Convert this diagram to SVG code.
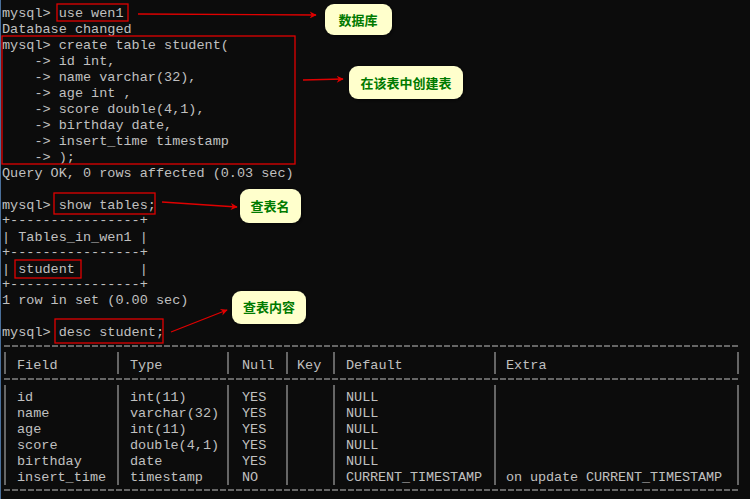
<svg xmlns="http://www.w3.org/2000/svg" width="750" height="499" viewBox="0 0 750 499">
<defs>
<marker id="ah" viewBox="0 0 10 10" refX="9" refY="5" markerWidth="9" markerHeight="7" orient="auto" markerUnits="userSpaceOnUse"><path d="M0,0 L10,5 L0,10 L3,5 Z" fill="#e00000"/></marker>
<filter id="sh" x="-20%" y="-30%" width="140%" height="160%"><feGaussianBlur in="SourceAlpha" stdDeviation="2"/><feOffset dx="1" dy="1"/><feComponentTransfer><feFuncA type="linear" slope="0.6"/></feComponentTransfer><feMerge><feMergeNode/><feMergeNode in="SourceGraphic"/></feMerge></filter>
</defs>
<style>
.t{font-family:"Liberation Mono",monospace;font-size:13.5px;fill:#c0c0c0;white-space:pre}
.d{font-family:"Liberation Mono",monospace;font-size:13.5px;fill:#c0c0c0}
.box{fill:none;stroke:#e00000;stroke-width:1.3}
.call{fill:#ffffcc;filter:url(#sh)}
.ct{font-family:"Noto Sans CJK SC",sans-serif;font-size:13px;font-weight:bold;fill:#007a00;text-anchor:middle}
.arr{stroke:#e00000;stroke-width:1.3;fill:none;marker-end:url(#ah)}
.sep{stroke:#c0c0c0;stroke-width:1;stroke-dasharray:6 2}
.v{stroke:#c0c0c0;stroke-width:1}
</style>
<rect width="750" height="499" fill="#0c0c0c"/>
<line x1="0.5" y1="0" x2="0.5" y2="499" stroke="#4a6f9a"/>
<g id="terminal" xml:space="preserve">
<text class="t" x="2" y="17">mysql&gt; use wen1</text>
<text class="t" x="2" y="33">Database changed</text>
<text class="t" x="2" y="49">mysql&gt; create table student(</text>
<text class="t" x="2" y="65">    -&gt; id int,</text>
<text class="t" x="2" y="81">    -&gt; name varchar(32),</text>
<text class="t" x="2" y="97">    -&gt; age int ,</text>
<text class="t" x="2" y="113">    -&gt; score double(4,1),</text>
<text class="t" x="2" y="129">    -&gt; birthday date,</text>
<text class="t" x="2" y="145">    -&gt; insert_time timestamp</text>
<text class="t" x="2" y="161">    -&gt; );</text>
<text class="t" x="2" y="177">Query OK, 0 rows affected (0.03 sec)</text>
<text class="t" x="2" y="209">mysql&gt; show tables;</text>
<text class="t" x="2" y="224">+----------------+</text>
<text class="t" x="2" y="241">| Tables_in_wen1 |</text>
<text class="t" x="2" y="256">+----------------+</text>
<text class="t" x="2" y="273">| student        |</text>
<text class="t" x="2" y="288">+----------------+</text>
<text class="t" x="2" y="304">1 row in set (0.00 sec)</text>
<text class="t" x="2" y="336">mysql&gt; desc student;</text>
</g>
<g id="desc-table">
<line class="sep" x1="4" y1="346" x2="738" y2="346"/>
<line class="sep" x1="4" y1="379" x2="738" y2="379"/>
<line class="sep" x1="4" y1="490" x2="738" y2="490"/>
<g class="v">
<line x1="5" y1="352" x2="5" y2="374"/><line x1="118" y1="352" x2="118" y2="374"/><line x1="228" y1="352" x2="228" y2="374"/><line x1="287" y1="352" x2="287" y2="374"/><line x1="334" y1="352" x2="334" y2="374"/><line x1="495" y1="352" x2="495" y2="374"/><line x1="738" y1="352" x2="738" y2="374"/>
<line x1="5" y1="385" x2="5" y2="485"/><line x1="118" y1="385" x2="118" y2="485"/><line x1="228" y1="385" x2="228" y2="485"/><line x1="287" y1="385" x2="287" y2="485"/><line x1="334" y1="385" x2="334" y2="485"/><line x1="495" y1="385" x2="495" y2="485"/><line x1="738" y1="385" x2="738" y2="485"/>
</g>
<text class="d" x="17" y="369">Field</text><text class="d" x="130" y="369">Type</text><text class="d" x="242" y="369">Null</text><text class="d" x="297" y="369">Key</text><text class="d" x="346" y="369">Default</text><text class="d" x="506" y="369">Extra</text>
<text class="d" x="17" y="401">id</text><text class="d" x="130" y="401">int(11)</text><text class="d" x="242" y="401">YES</text><text class="d" x="346" y="401">NULL</text>
<text class="d" x="17" y="417">name</text><text class="d" x="130" y="417">varchar(32)</text><text class="d" x="242" y="417">YES</text><text class="d" x="346" y="417">NULL</text>
<text class="d" x="17" y="433">age</text><text class="d" x="130" y="433">int(11)</text><text class="d" x="242" y="433">YES</text><text class="d" x="346" y="433">NULL</text>
<text class="d" x="17" y="449">score</text><text class="d" x="130" y="449">double(4,1)</text><text class="d" x="242" y="449">YES</text><text class="d" x="346" y="449">NULL</text>
<text class="d" x="17" y="465">birthday</text><text class="d" x="130" y="465">date</text><text class="d" x="242" y="465">YES</text><text class="d" x="346" y="465">NULL</text>
<text class="d" x="17" y="481">insert_time</text><text class="d" x="130" y="481">timestamp</text><text class="d" x="242" y="481">NO</text><text class="d" x="346" y="481" textLength="136">CURRENT_TIMESTAMP</text><text class="d" x="506" y="481" textLength="216">on update CURRENT_TIMESTAMP</text>
</g>
<g id="highlights">
<rect class="box" x="57" y="4" width="71" height="17"/>
<rect class="box" x="2" y="36" width="293" height="128"/>
<rect class="box" x="54" y="193" width="101" height="21"/>
<rect class="box" x="15" y="260" width="66" height="18"/>
<rect class="box" x="55" y="319" width="108" height="24"/>
</g>
<g id="callout-db"><rect class="call" x="325" y="4" width="67" height="31" rx="9"/><text class="ct" x="358" y="25">数据库</text></g>
<g id="callout-create"><rect class="call" x="349" y="66" width="114" height="33" rx="9"/><text class="ct" x="406" y="88">在该表中创建表</text></g>
<g id="callout-name"><rect class="call" x="240" y="189" width="61" height="34" rx="9"/><text class="ct" x="270" y="211">查表名</text></g>
<g id="callout-content"><rect class="call" x="232" y="291" width="74" height="33" rx="9"/><text class="ct" x="269" y="312">查表内容</text></g>
<g id="connectors">
<line class="arr" x1="138" y1="14" x2="316" y2="15"/>
<line class="arr" x1="303" y1="80" x2="343" y2="79"/>
<line class="arr" x1="162" y1="202" x2="237" y2="207"/>
<line class="arr" x1="171" y1="332" x2="227" y2="310"/>
</g>
</svg>
